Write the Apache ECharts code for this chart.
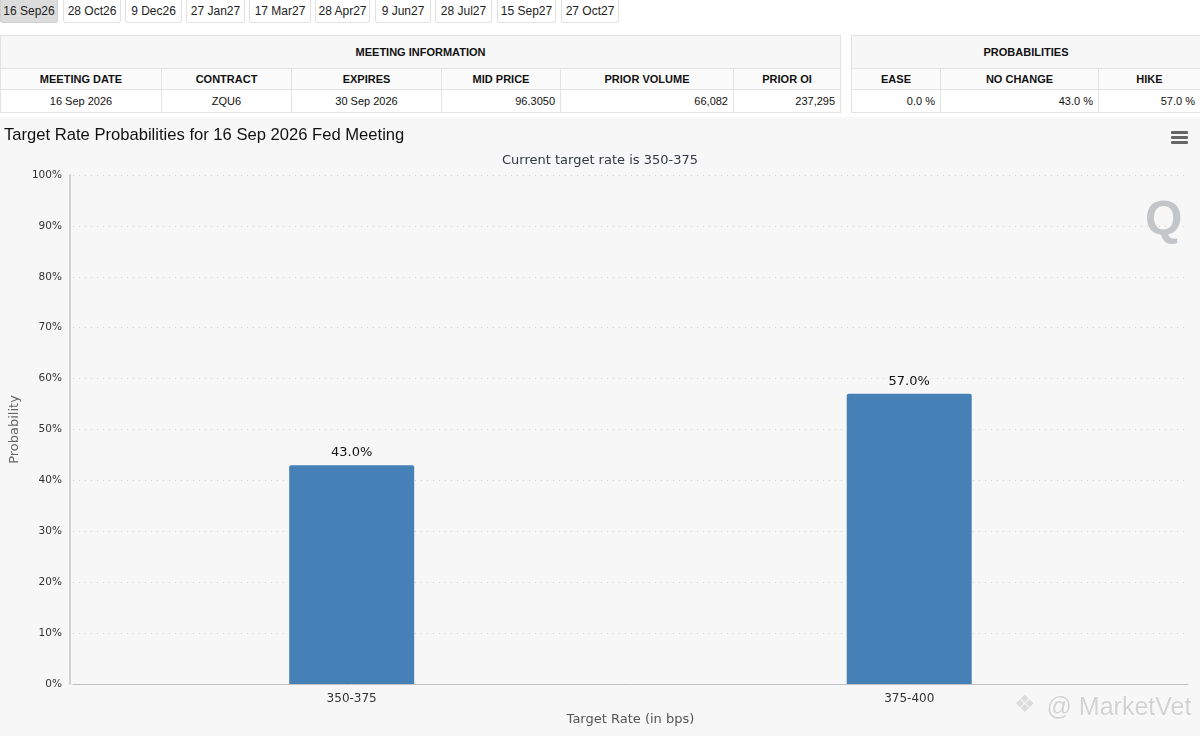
<!DOCTYPE html>
<html>
<head>
<meta charset="utf-8">
<script src="https://cdn.jsdelivr.net/npm/echarts@6/dist/echarts.min.js"></script>
<style>
  html, body { margin: 0; padding: 0; width: 1200px; height: 736px; overflow: hidden; background: #fff; font-family: "Liberation Sans", Arial, sans-serif; }
  .tab { position: absolute; top: 0; height: 23px; line-height: 23px; font-size: 12px; color: #222; text-align: center; border: 1px solid #e2e2e2; border-top: none; border-radius: 0 0 3px 3px; box-sizing: border-box; background: #fff; }
  .tab.sel { background: #dcdcdc; border-color: #d0d0d0; }
  table { position: absolute; border-collapse: collapse; font-size: 11px; color: #111; table-layout: fixed; }
  td { border: 1px solid #e3e3e3; padding: 0 5px; box-sizing: border-box; white-space: nowrap; }
  tr.h1 td { height: 33px; background: #f7f7f7; font-weight: bold; text-align: center; }
  tr.h2 td { height: 21px; font-weight: bold; text-align: center; background: #fbfbfb; }
  tr.d td { height: 23px; }
  .c { text-align: center; } .r { text-align: right; }
  #chart { position: absolute; left: 0; top: 117px; width: 1200px; height: 619px; }
</style>
</head>
<body>
<div id="tabs"></div>
<table id="t1" style="left:0; top:35px; width:840px;"></table>
<table id="t2" style="left:851px; top:35px; width:349px;"></table>
<div id="chart"></div>
<script>
// ---- data ----
const meetingTabs = ["16 Sep26", "28 Oct26", "9 Dec26", "27 Jan27", "17 Mar27", "28 Apr27", "9 Jun27", "28 Jul27", "15 Sep27", "27 Oct27"];
const infoHeaders = ["MEETING DATE", "CONTRACT", "EXPIRES", "MID PRICE", "PRIOR VOLUME", "PRIOR OI"];
const infoValues = ["16 Sep 2026", "ZQU6", "30 Sep 2026", "96.3050", "66,082", "237,295"];
const probHeaders = ["EASE", "NO CHANGE", "HIKE"];
const probValues = ["0.0 %", "43.0 %", "57.0 %"];
const rateBuckets = ["350-375", "375-400"];
const probabilities = [43.0, 57.0];
const yTicks = [0, 10, 20, 30, 40, 50, 60, 70, 80, 90, 100];
const chartTitle = "Target Rate Probabilities for 16 Sep 2026 Fed Meeting";
const chartSubtitle = "Current target rate is 350-375";

// ---- tabs ----
const tabX = [0, 63, 125, 186, 249, 315, 375, 435, 497, 561];
const tabW = [58, 58, 57, 59, 62, 55, 56, 57, 59, 58];
const tabs = document.getElementById('tabs');
meetingTabs.forEach((t, i) => {
  const d = document.createElement('div');
  d.className = 'tab' + (i === 0 ? ' sel' : '');
  d.style.left = tabX[i] + 'px';
  d.style.width = tabW[i] + 'px';
  d.textContent = t;
  tabs.appendChild(d);
});

// ---- tables ----
const w1 = [161, 130, 150, 119, 173, 107];
const a1 = ['c', 'c', 'c', 'r', 'r', 'r'];
let h = '<colgroup>' + w1.map(w => `<col style="width:${w}px">`).join('') + '</colgroup>';
h += `<tr class="h1"><td colspan="6">MEETING INFORMATION</td></tr>`;
h += '<tr class="h2">' + infoHeaders.map(x => `<td>${x}</td>`).join('') + '</tr>';
h += '<tr class="d">' + infoValues.map((x, i) => `<td class="${a1[i]}">${x}</td>`).join('') + '</tr>';
document.getElementById('t1').innerHTML = h;

const w2 = [89, 158, 102];
let h2 = '<colgroup>' + w2.map(w => `<col style="width:${w}px">`).join('') + '</colgroup>';
h2 += `<tr class="h1"><td colspan="3">PROBABILITIES</td></tr>`;
h2 += '<tr class="h2">' + probHeaders.map(x => `<td>${x}</td>`).join('') + '</tr>';
h2 += '<tr class="d">' + probValues.map(x => `<td class="r">${x}</td>`).join('') + '</tr>';
document.getElementById('t2').innerHTML = h2;

// ---- chart ----
const chart = echarts.init(document.getElementById('chart'));
const sans = '"DejaVu Sans", Verdana, sans-serif';
chart.setOption({
  backgroundColor: '#f7f7f7',
  animation: false,
  title: [
    { text: chartTitle, left: -1, top: 5, textStyle: { fontFamily: '"Liberation Sans", Arial, sans-serif', fontSize: 16.6, fontWeight: 'normal', color: '#111' } },
    { text: chartSubtitle, left: 'center', top: 32, textStyle: { fontFamily: sans, fontSize: 13, fontWeight: 'normal', color: '#333846' } }
  ],
  grid: { left: 70, right: 12, top: 58, bottom: 52 },
  xAxis: {
    type: 'category',
    data: rateBuckets,
    name: 'Target Rate (in bps)',
    nameLocation: 'middle',
    nameGap: 29,
    nameTextStyle: { fontFamily: sans, fontSize: 13, color: '#555' },
    axisLine: { lineStyle: { color: '#c0c0c0', width: 1 } },
    axisTick: { alignWithLabel: true, length: 6, lineStyle: { color: '#d0d0d0' } },
    axisLabel: { fontFamily: sans, fontSize: 12, color: '#333', margin: 9 }
  },
  yAxis: {
    type: 'value',
    min: yTicks[0],
    max: yTicks[yTicks.length - 1],
    interval: 10,
    offset: 3,
    name: 'Probability',
    nameLocation: 'middle',
    nameGap: 47,
    nameRotate: 90,
    nameTextStyle: { fontFamily: sans, fontSize: 13, color: '#666' },
    axisLine: { show: true, lineStyle: { color: '#c4c4c4', width: 1.5 } },
    axisTick: { show: false },
    axisLabel: { fontFamily: sans, fontSize: 10.5, color: '#333', margin: 8, formatter: v => v + '%' },
    splitLine: { show: true, lineStyle: { color: '#cfcfcf', type: [1, 5], width: 1 } }
  },
  series: [{
    type: 'bar',
    data: probabilities,
    barWidth: 125,
    itemStyle: { color: '#4580b7', borderRadius: [2, 2, 0, 0] },
    label: { show: true, position: 'top', distance: 6, fontFamily: sans, fontSize: 13, color: '#111', formatter: p => p.value.toFixed(1) + '%' }
  }],
  graphic: [
    { type: 'rect', left: 1171, top: 14, shape: { width: 17, height: 3, r: 1 }, style: { fill: '#666' } },
    { type: 'rect', left: 1171, top: 19, shape: { width: 17, height: 3, r: 1 }, style: { fill: '#666' } },
    { type: 'rect', left: 1171, top: 24, shape: { width: 17, height: 3, r: 1 }, style: { fill: '#666' } },
    { type: 'text', left: 1145, top: 80, style: { text: 'Q', fontFamily: '"Liberation Sans", Arial, sans-serif', fontWeight: 'bold', fontSize: 48, fill: '#c3c6c9' } },
    { type: 'text', left: 1014, top: 577, style: { text: '\u2756', fontFamily: '"DejaVu Sans", sans-serif', fontSize: 24, fill: '#dcdcdc' } },
    { type: 'text', left: 1046, top: 578, style: { text: '@ MarketVet', fontFamily: '"Liberation Sans", Arial, sans-serif', fontSize: 25, fill: '#d2d2d2', stroke: '#ffffff', lineWidth: 1 } }
  ]
});
</script>
</body>
</html>
